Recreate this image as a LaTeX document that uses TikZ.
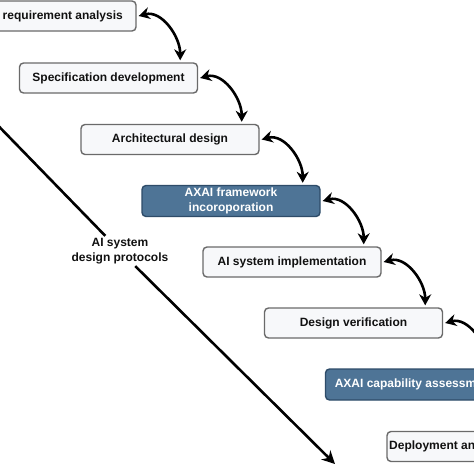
\documentclass[tikz,border=0pt]{standalone}
\usepackage{fontspec}
\setmainfont{Liberation Sans}
\usetikzlibrary{arrows.meta}
\definecolor{boxfill}{HTML}{F7F8FA}
\definecolor{boxline}{HTML}{6A6A6A}
\definecolor{bluefill}{HTML}{4E7496}
\definecolor{blueline}{HTML}{2E4C69}
\definecolor{txt}{HTML}{111111}
\tikzset{
  stage/.style={draw=boxline, fill=boxfill, line width=1.4pt, rounded corners=4pt,
    minimum width=178pt, minimum height=30pt, inner sep=0pt,
    font=\fontsize{12}{14}\selectfont\bfseries, text=txt},
  axai/.style={stage, draw=blueline, fill=bluefill, text=white, align=center,
    minimum height=31pt, font=\fontsize{12}{15}\selectfont\bfseries},
  link/.style={line width=2.6pt, {Stealth[length=11pt,width=12pt]}-{Stealth[length=11pt,width=12pt]}},
  diag/.style={line width=2.6pt, -{Stealth[length=13pt,width=13pt]}},
  lbl/.style={font=\fontsize{12}{15}\selectfont\bfseries, text=txt, align=center, inner sep=2pt}
}
\begin{document}
\begin{tikzpicture}[x=1pt,y=-1pt]
\useasboundingbox (0,0) rectangle (474,474);
\clip (0,0) rectangle (474,474);
\fill[white] (0,0) rectangle (474,474);
% stage boxes
\node[stage] (b1) at (47,16) {};
\node[font=\fontsize{12}{14}\selectfont\bfseries, text=txt, anchor=east, inner sep=0pt] (t1) at (123,16) {requirement analysis};
\node[stage] (b2) at (108.5,78) {Specification development};
\node[stage] (b3) at (170,139.5) {Architectural design};
\node[axai] (b4) at (231,201) {AXAI framework\\incoroporation};
\node[stage] (b5) at (292,262) {AI system implementation};
\node[stage] (b6) at (353.5,323) {Design verification};
\node[axai, minimum height=31pt] (b7) at (414.5,384.5) {AXAI capability assessment};
\node[stage] (b8) at (476,446.5) {};
\node[font=\fontsize{12}{14}\selectfont\bfseries, text=txt, anchor=west, inner sep=0pt] (t8) at (389,446.5) {Deployment and maintenance};
% links
\draw[link] ([xshift=2pt]b1.east) to[out=15,in=90] ([xshift=-18pt,yshift=2pt]b2.north east);
\draw[link] ([xshift=2pt]b2.east) to[out=15,in=90] ([xshift=-18pt,yshift=2pt]b3.north east);
\draw[link] ([xshift=2pt]b3.east) to[out=15,in=90] ([xshift=-18pt,yshift=2pt]b4.north east);
\draw[link] ([xshift=2pt]b4.east) to[out=15,in=90] ([xshift=-18pt,yshift=2pt]b5.north east);
\draw[link] ([xshift=2pt]b5.east) to[out=15,in=90] ([xshift=-18pt,yshift=2pt]b6.north east);
\draw[link] ([xshift=2pt]b6.east) to[out=15,in=90] ([xshift=-18pt,yshift=2pt]b7.north east);
\draw[link] ([xshift=2pt]b7.east) to[out=15,in=90] ([xshift=-18pt,yshift=2pt]b8.north east);
% diagonal
\coordinate (ds) at (-20,107);
\coordinate (de) at (335,464);
\node[lbl] (dl) at (120,251) {AI system\\design protocols};
\draw[line width=2.6pt] (ds) -- (dl);
\draw[diag] (dl) -- (de);
\end{tikzpicture}
\end{document}
